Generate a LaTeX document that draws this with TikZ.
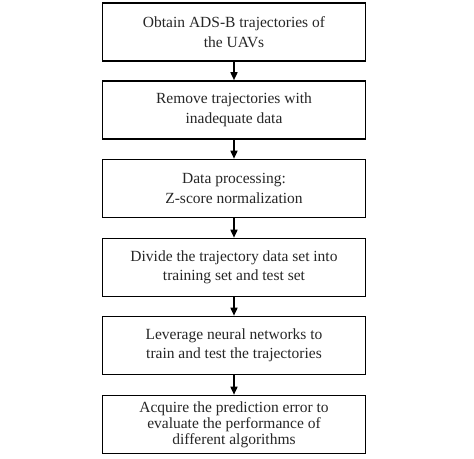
\documentclass[tikz,border=0pt]{standalone}
\usepackage{fontspec}
\setmainfont{Liberation Serif}
\usetikzlibrary{arrows.meta}
\begin{document}
\begin{tikzpicture}[x=1pt,y=1pt,
  stepbox/.style={draw, line width=1.6pt, minimum width=263pt, minimum height=58pt, align=center, inner sep=2pt, font=\fontsize{15.5}{19.5}\selectfont, text=black!85},
  tightbox/.style={stepbox, font=\fontsize{15.5}{16}\selectfont},
  conn/.style={line width=1.6pt, -{Triangle[length=8pt,width=7pt]}}]
\useasboundingbox (0,0) rectangle (474,-458);
\node[stepbox] (b1) at (234,-32) {Obtain ADS-B trajectories of\\the UAVs};
\node[stepbox] (b2) at (234,-110) {Remove trajectories with\\inadequate data};
\node[stepbox] (b3) at (234,-188.5) {Data processing:\\Z-score normalization};
\node[stepbox] (b4) at (234,-267.5) {Divide the trajectory data set into\\training set and test set};
\node[stepbox] (b5) at (234,-345.5) {Leverage neural networks to\\train and test the trajectories};
\node[tightbox] (b6) at (234,-424.5) {Acquire the prediction error to\\evaluate the performance of\\different algorithms};
\draw[conn] (b1) -- (b2);
\draw[conn] (b2) -- (b3);
\draw[conn] (b3) -- (b4);
\draw[conn] (b4) -- (b5);
\draw[conn] (b5) -- (b6);
\end{tikzpicture}
\end{document}
